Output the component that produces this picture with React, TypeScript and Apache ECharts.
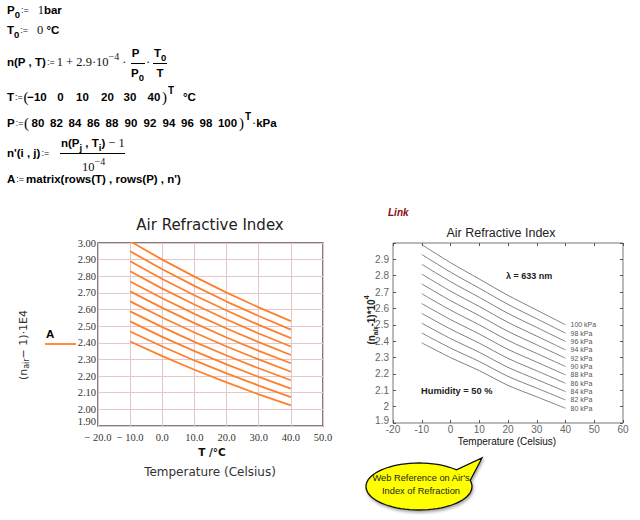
import React, { useEffect, useRef } from 'react';
import * as echarts from 'echarts';

// ---------- data ----------
const TEMPS = [-10, 0, 10, 20, 30, 40];
const PRESSURES = [80, 82, 84, 86, 88, 90, 92, 94, 96, 98, 100];

// Mathcad plot (left): (n_air - 1)·1E4, one row per pressure, columns follow TEMPS
const MATHCAD_N = [
  [2.408, 2.320, 2.238, 2.162, 2.090, 2.024],
  [2.468, 2.378, 2.294, 2.216, 2.143, 2.074],
  [2.529, 2.436, 2.350, 2.270, 2.195, 2.125],
  [2.589, 2.494, 2.406, 2.324, 2.247, 2.175],
  [2.649, 2.552, 2.462, 2.378, 2.300, 2.226],
  [2.709, 2.610, 2.518, 2.432, 2.352, 2.277],
  [2.769, 2.668, 2.574, 2.486, 2.404, 2.327],
  [2.830, 2.726, 2.630, 2.540, 2.456, 2.378],
  [2.890, 2.784, 2.686, 2.594, 2.508, 2.428],
  [2.950, 2.842, 2.742, 2.648, 2.561, 2.479],
  [3.010, 2.900, 2.798, 2.702, 2.613, 2.530],
];

// Web reference plot (right, humidity 50 %)
const WEB_N = [
  [2.39, 2.30, 2.22, 2.13, 2.06, 1.99],
  [2.45, 2.358, 2.276, 2.185, 2.113, 2.041],
  [2.51, 2.416, 2.332, 2.24, 2.166, 2.092],
  [2.57, 2.474, 2.388, 2.295, 2.219, 2.143],
  [2.63, 2.532, 2.444, 2.35, 2.272, 2.194],
  [2.69, 2.59, 2.50, 2.405, 2.325, 2.245],
  [2.75, 2.648, 2.556, 2.46, 2.378, 2.296],
  [2.81, 2.706, 2.612, 2.515, 2.431, 2.347],
  [2.87, 2.764, 2.668, 2.57, 2.484, 2.398],
  [2.93, 2.822, 2.724, 2.625, 2.537, 2.449],
  [2.99, 2.88, 2.78, 2.68, 2.59, 2.50],
];

// ---------- fonts & layout ----------
const SANS = '"Liberation Sans", Arial, sans-serif';
const SERIF = '"Liberation Serif", "Times New Roman", serif';
const DEJAVU = '"DejaVu Sans", Verdana, sans-serif';
const ORANGE = '#ff7f2a';

const FR: any = {
  b: { fontFamily: SANS, fontWeight: 'bold', fontSize: 11.5, lineHeight: 20, fill: '#000' },
  r: { fontFamily: SERIF, fontSize: 12.5, lineHeight: 20, fill: '#111' },
  d: { fontFamily: SANS, fontSize: 9, lineHeight: 20, fill: '#111', padding: [0, 2, 0, 1] },
  d2: { fontFamily: SANS, fontSize: 9, lineHeight: 20, fill: '#111', padding: [0, 9, 0, 1] },
  sb: { fontFamily: SANS, fontWeight: 'bold', fontSize: 9.5, verticalAlign: 'bottom', height: 11, fill: '#000' },
  sp: { fontFamily: SERIF, fontSize: 10, verticalAlign: 'top', height: 9, fill: '#111' },
};

const T_COLS = [37, 60.5, 82.5, 107.5, 130, 154];
const P_COLS = [38, 56.5, 75, 93.5, 112, 131, 150, 169, 187.5, 206, 227.5];

function rt(x: number, y: number, text: string, extra: any = {}) {
  return {
    type: 'text', x, y, silent: true, z: 100,
    style: { text, align: 'left', verticalAlign: 'middle', rich: FR, fill: '#000', fontFamily: SANS, fontWeight: 'bold', fontSize: 11.5, ...extra },
  };
}
function ctext(x: number, y: number, text: string, style: any) {
  return { type: 'text', x, y, silent: true, z: 100, style: { text, align: 'center', verticalAlign: 'middle', ...style } };
}
function hline(x1: number, x2: number, y: number, color = '#000', w = 1) {
  return { type: 'line', silent: true, z: 100, shape: { x1, y1: y, x2, y2: y }, style: { stroke: color, lineWidth: w } };
}
const fmtNum = (v: number) => (v < 0 ? '\u2212' + Math.abs(v) : String(v));
const BOLD = { fontFamily: SANS, fontWeight: 'bold', fontSize: 11.5, fill: '#000' };
const PAREN = { fontFamily: SERIF, fontWeight: 'normal', fontSize: 15 };

function buildFormulas(): any[] {
  const g: any[] = [];
  g.push(rt(7, 9.5, '{b|P}{sb|0}{d2|:=}{r|1}{b|bar}'));
  g.push(rt(7, 29.5, '{b|T}{sb|0}{d2|:=}{r|0}{b| °C}'));
  // n(P,T)
  g.push(rt(7, 62, '{b|n(P , T)}{d|:=}{r|1 + 2.9·10}{sp|\u22124}{r| ·}'));
  g.push(ctext(135.5, 52.5, 'P', BOLD));
  g.push(hline(131, 145, 63.5));
  g.push(rt(131, 73, '{b|P}{sb|0}'));
  g.push(rt(146, 62, '{r|·}'));
  g.push(rt(154, 52.5, '{b|T}{sb|0}'));
  g.push(hline(153, 167, 63.5));
  g.push(ctext(160, 73, 'T', BOLD));
  // T vector
  g.push(rt(7, 97.3, '{b|T}{d|:=}'));
  g.push(rt(23.5, 97.3, '(', PAREN));
  TEMPS.forEach((t, i) => g.push(ctext(T_COLS[i], 97.3, fmtNum(t), BOLD)));
  g.push(rt(162, 97.3, ')', PAREN));
  g.push(rt(168, 90, 'T', { fontSize: 10 }));
  g.push(rt(183, 97.3, '°C'));
  // P vector
  g.push(rt(7, 123.3, '{b|P}{d|:=}'));
  g.push(rt(24, 123.3, '(', PAREN));
  PRESSURES.forEach((p, i) => g.push(ctext(P_COLS[i], 123.3, fmtNum(p), BOLD)));
  g.push(rt(239, 123.3, ')', PAREN));
  g.push(rt(245, 116, 'T', { fontSize: 10 }));
  g.push(rt(252, 123.3, '{r|·}{b|kPa}'));
  // n'
  g.push(rt(7, 153, "{b|n'(i , j)}{d|:=}"));
  g.push(rt(61, 143.3, '{b|n(P}{sb|j}{b| , T}{sb|i}{b|)}{r| \u2212 1}'));
  g.push(hline(60, 125, 153.5));
  g.push(rt(82, 166.7, '{r|10}{sp|\u22124}'));
  // A
  g.push(rt(7, 179.3, "{b|A}{d|:=}{b|matrix(rows(T) , rows(P) , n')}"));
  return g;
}

function buildCallout(): any[] {
  const cx = 419, cy = 486.5, rx = 53, ry = 23.5;
  const pts: number[][] = [];
  for (let a = -15; a <= 315; a += 5) {
    const t = (a * Math.PI) / 180;
    pts.push([cx + rx * Math.cos(t), cy + ry * Math.sin(t)]);
  }
  pts.push([482, 458]);
  return [
    {
      type: 'polygon', silent: true, z: 100,
      shape: { points: pts },
      style: { fill: '#ffff00', stroke: '#111', lineWidth: 1.3, shadowBlur: 3, shadowOffsetX: 1, shadowOffsetY: 2, shadowColor: 'rgba(0,0,0,0.35)' },
    },
    ctext(421, 478, "Web Reference on Air's", { fontFamily: SANS, fontSize: 9.3, fill: '#222' }),
    ctext(421, 491, 'Index of Refraction', { fontFamily: SANS, fontSize: 9.3, fill: '#222' }),
  ];
}

function buildOption(): any {
  const leftSeries = MATHCAD_N.map((row, i) => ({
    type: 'line', xAxisIndex: 0, yAxisIndex: 0, name: `${PRESSURES[i]} kPa`,
    data: TEMPS.map((t, j) => [t, row[j]]),
    showSymbol: false, clip: true, silent: true,
    lineStyle: { color: ORANGE, width: 1.8 },
  }));
  const rightSeries = WEB_N.map((row, i) => ({
    type: 'line', xAxisIndex: 1, yAxisIndex: 1, name: `web ${PRESSURES[i]}`,
    data: TEMPS.map((t, j) => [t, row[j]]),
    showSymbol: false, silent: true, smooth: 0.3,
    lineStyle: { color: '#707070', width: 0.9 },
    endLabel: { show: true, formatter: () => `${PRESSURES[i]} kPa`, fontFamily: SANS, fontSize: 7, color: '#555', distance: 5 },
  }));

  const rightTickAxis = {
    gridIndex: 1, type: 'value', min: -20, max: 60, interval: 10,
    axisLine: { show: false, onZero: false },
    axisTick: { show: true, inside: true, length: 3, lineStyle: { color: '#555' } },
    splitLine: { show: false },
  };
  const rightYAxis = {
    gridIndex: 1, type: 'value', min: 1.9, max: 3.0, interval: 0.1,
    axisLine: { show: false, onZero: false },
    axisTick: { show: true, inside: true, length: 3, lineStyle: { color: '#555' } },
    splitLine: { show: false },
  };

  const graphics: any[] = [
    ...buildFormulas(),
    // left chart decorations
    ctext(210, 225, 'Air Refractive Index', { fontFamily: DEJAVU, fontSize: 15, fill: '#222' }),
    ctext(212, 452, 'T /°C', { fontFamily: DEJAVU, fontWeight: 'bold', fontSize: 10.5, fill: '#111' }),
    ctext(210, 472, 'Temperature (Celsius)', { fontFamily: DEJAVU, fontSize: 12, fill: '#333' }),
    {
      type: 'text', x: 23, y: 345, rotation: Math.PI / 2, silent: true, z: 100,
      style: {
        text: '{m|(n}{s|air}{m|\u2212 1)·1E4}', align: 'center', verticalAlign: 'middle',
        rich: {
          m: { fontFamily: DEJAVU, fontSize: 11, lineHeight: 16, fill: '#333' },
          s: { fontFamily: DEJAVU, fontSize: 8, verticalAlign: 'bottom', height: 9, fill: '#333' },
        },
      },
    },
    rt(46, 334, 'A', { fontSize: 11.5 }),
    hline(45, 76, 344, ORANGE, 1.8),
    // right chart decorations
    rt(388, 212, 'Link', { fontStyle: 'italic', fontSize: 10, fill: '#8b0a0a' }),
    ctext(501, 233, 'Air Refractive Index', { fontFamily: SANS, fontSize: 12.5, fill: '#222' }),
    ctext(507, 441, 'Temperature (Celsius)', { fontFamily: SANS, fontSize: 10, fill: '#111' }),
    {
      type: 'text', x: 371, y: 320, rotation: Math.PI / 2, silent: true, z: 100,
      style: {
        text: '{m|(n}{s|air}{m|-1)*10}{p|4}', align: 'center', verticalAlign: 'middle',
        rich: {
          m: { fontFamily: SANS, fontWeight: 'bold', fontSize: 10, lineHeight: 16, fill: '#222' },
          s: { fontFamily: SANS, fontWeight: 'bold', fontSize: 7, verticalAlign: 'bottom', height: 8, fill: '#222' },
          p: { fontFamily: SANS, fontWeight: 'bold', fontSize: 7, verticalAlign: 'top', height: 7, fill: '#222' },
        },
      },
    },
    rt(506, 276, 'λ = 633 nm', { fontSize: 9, fill: '#222' }),
    rt(421, 391, 'Humidity = 50 %', { fontSize: 9.3, fill: '#222' }),
    ...buildCallout(),
  ];

  return {
    animation: false,
    backgroundColor: '#ffffff',
    grid: [
      { left: 98, top: 243, width: 225, height: 183, show: true, borderColor: '#555', borderWidth: 1.5, backgroundColor: '#fff' },
      { left: 393, top: 243, width: 230, height: 180, show: true, borderColor: '#777', borderWidth: 1, backgroundColor: '#fff' },
    ],
    xAxis: [
      {
        gridIndex: 0, type: 'value', min: -20, max: 50, interval: 10,
        axisLine: { show: false, onZero: false }, axisTick: { show: false },
        splitLine: { show: true, lineStyle: { color: '#e5c6c9', width: 1 } },
        axisLabel: {
          fontFamily: SERIF, fontSize: 10.5, color: '#333', margin: 6,
          formatter: (v: number) => (v < 0 ? '\u2212 ' + Math.abs(v).toFixed(1) : v.toFixed(1)),
        },
      },
      { ...rightTickAxis, axisLabel: { fontFamily: SANS, fontSize: 10, color: '#666', margin: 1 } },
      { ...rightTickAxis, position: 'top', axisLabel: { show: false } },
    ],
    yAxis: [
      {
        gridIndex: 0, type: 'value', min: 1.9, max: 3.0, interval: 0.1,
        axisLine: { show: false, onZero: false }, axisTick: { show: false },
        splitLine: { show: true, lineStyle: { color: '#e5c6c9', width: 1 } },
        axisLabel: {
          fontFamily: SERIF, fontSize: 10.5, color: '#333', margin: 2,
          formatter: (v: number) => (v < 1.95 ? '{lo|' + v.toFixed(2) + '}' : v.toFixed(2)),
          rich: { lo: { fontFamily: SERIF, fontSize: 10.5, color: '#333', padding: [0, 0, 9, 0] } },
        },
      },
      {
        ...rightYAxis,
        axisLabel: {
          fontFamily: SANS, fontSize: 10, color: '#666', margin: 4,
          formatter: (v: number) => {
            const s = String(Math.round(v * 10) / 10);
            if (v > 2.95) return '';
            return v < 1.95 ? '{lo|' + s + '}' : s;
          },
          rich: { lo: { fontFamily: SANS, fontSize: 10, color: '#666', padding: [0, 0, 5, 0] } },
        },
      },
      { ...rightYAxis, position: 'right', axisLabel: { show: false } },
    ],
    series: [...leftSeries, ...rightSeries],
    graphic: graphics,
  };
}

export default function App() {
  const ref = useRef<HTMLDivElement>(null);
  useEffect(() => {
    if (!ref.current) return;
    const chart = echarts.init(ref.current, null, { renderer: 'svg' });
    chart.setOption(buildOption());
    return () => chart.dispose();
  }, []);
  return <div ref={ref} style={{ position: 'absolute', left: 0, top: 0, width: 640, height: 520, background: '#fff' }} />;
}
